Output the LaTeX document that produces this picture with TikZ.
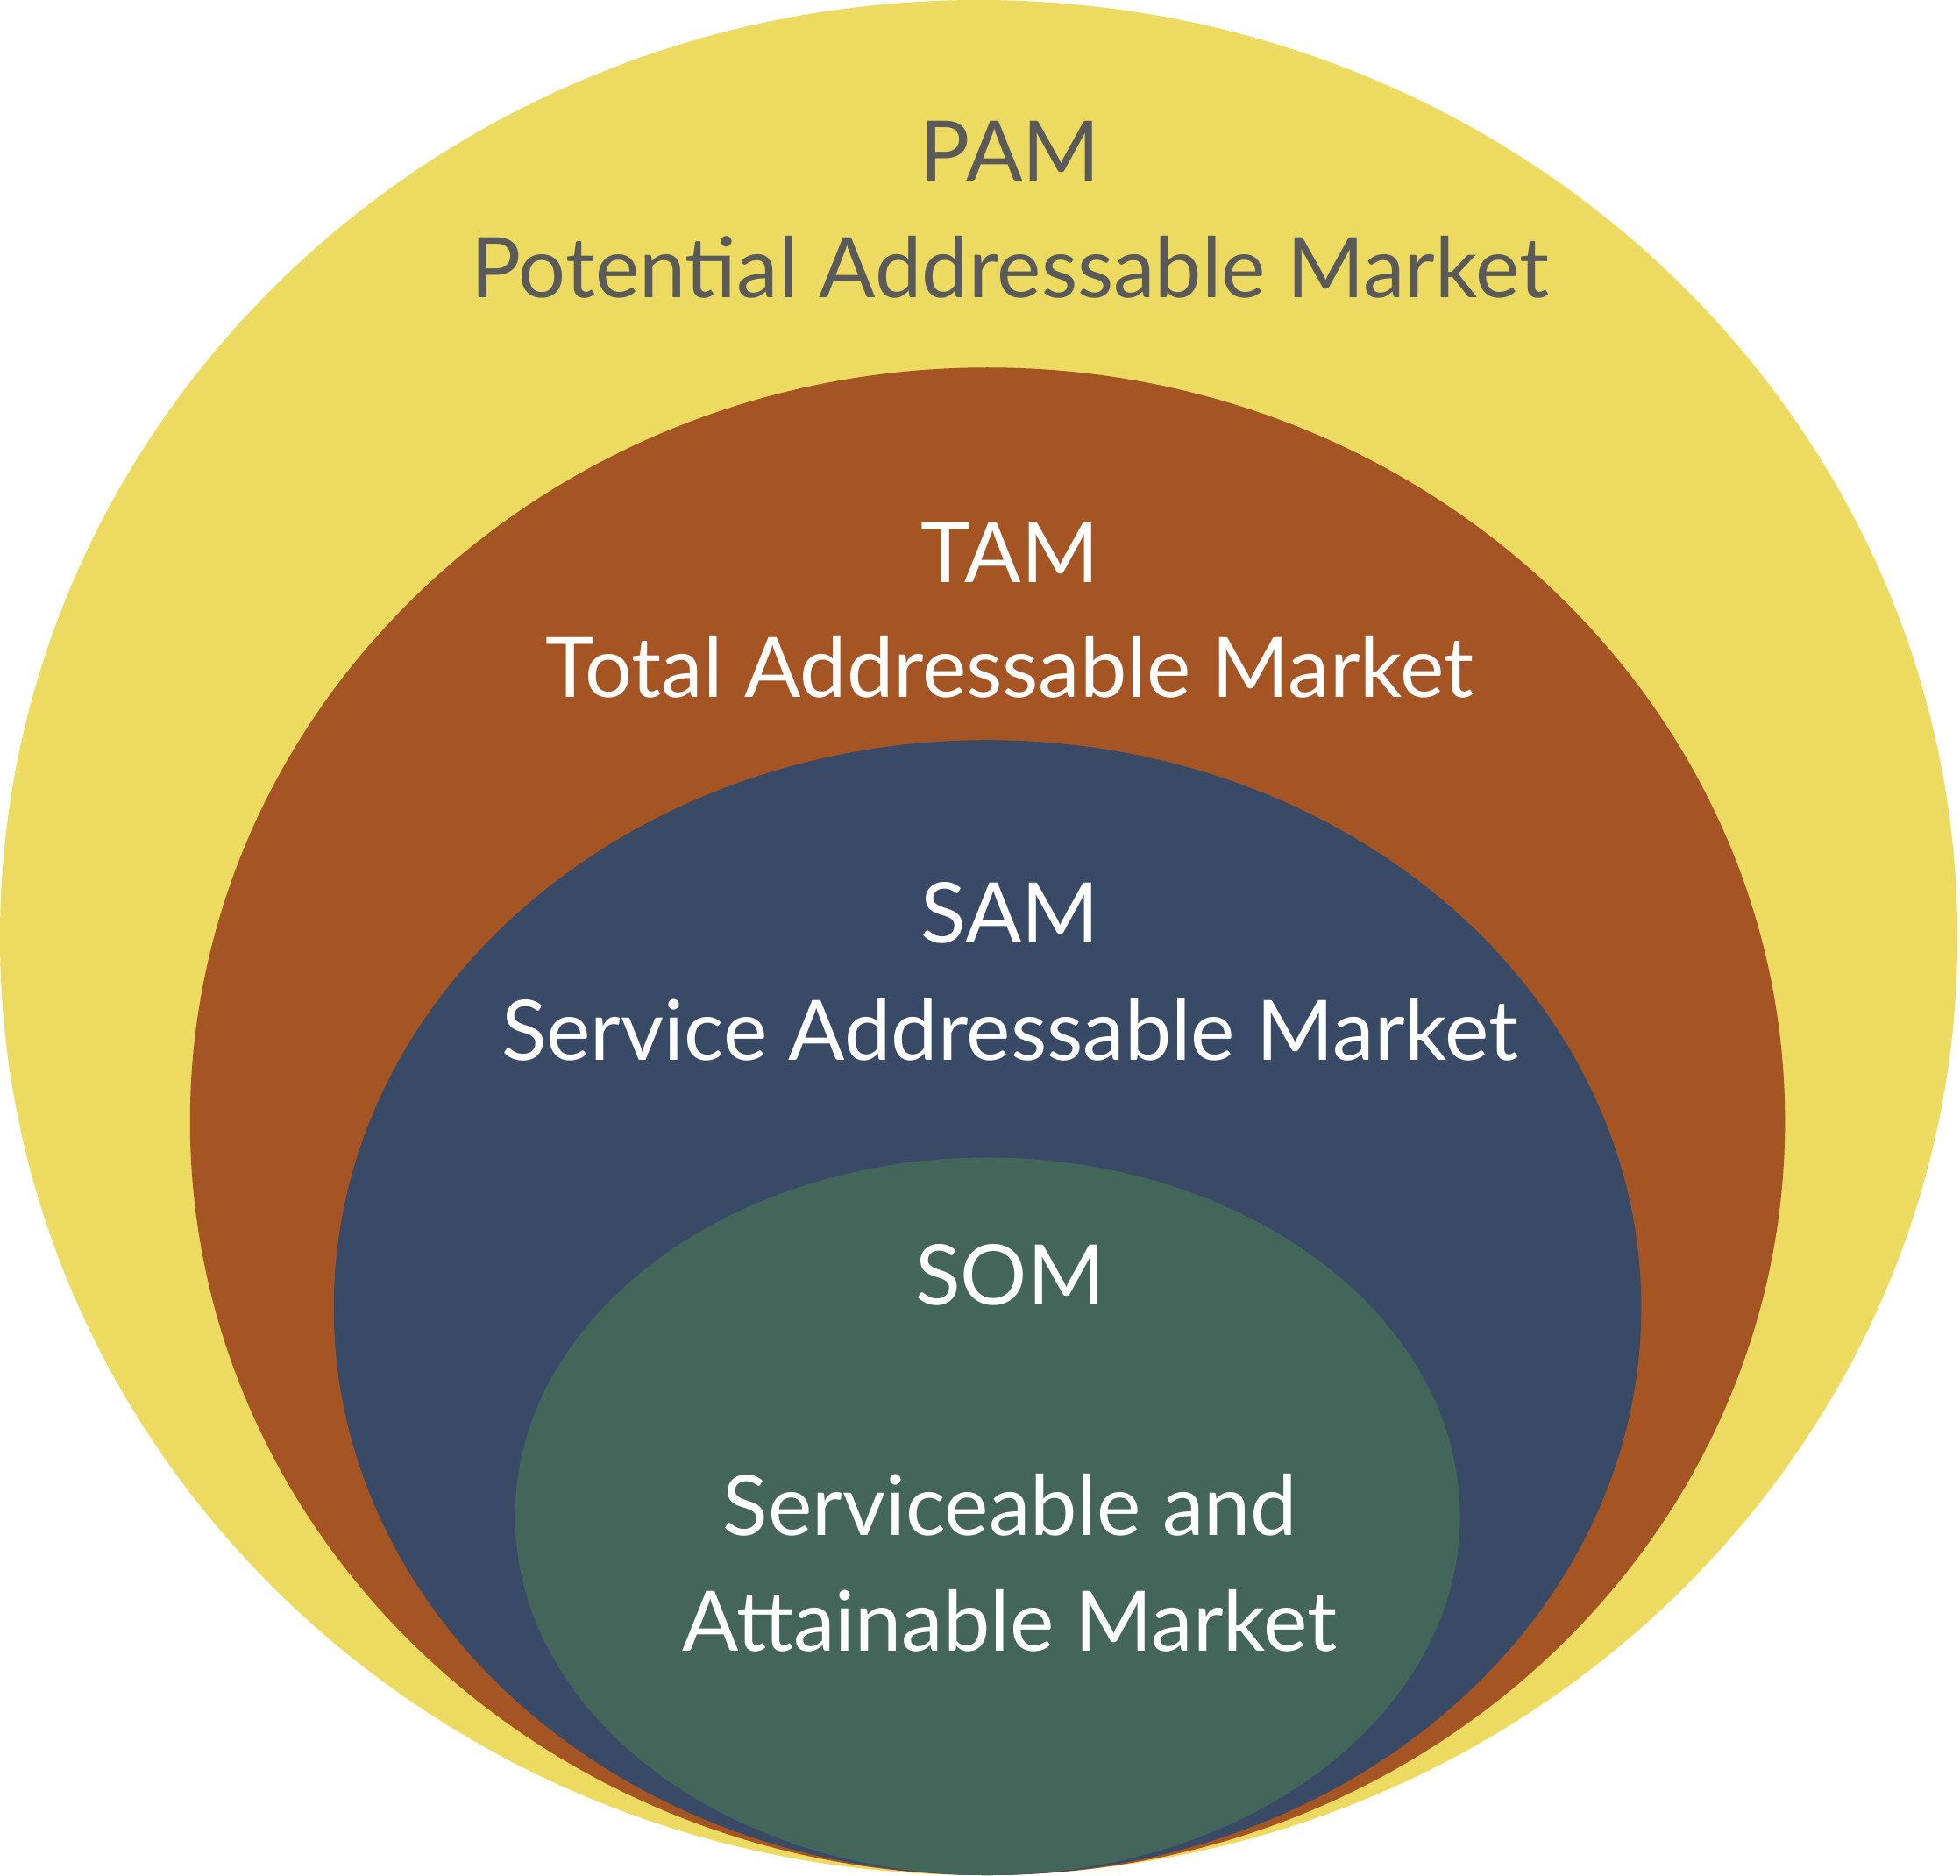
\documentclass[tikz,border=0pt]{standalone}
\usepackage{fontspec}
\setmainfont{Lato}
\definecolor{cpam}{HTML}{EDDA60}
\definecolor{ctam}{HTML}{A55423}
\definecolor{csam}{HTML}{384A66}
\definecolor{csom}{HTML}{44665A}
\definecolor{cgray}{HTML}{5A5A5A}
\begin{document}
\begin{tikzpicture}[x=0.01cm,y=-0.01cm,
  lbl/.style={font=\fontsize{19}{23}\selectfont,white,anchor=base}]
\useasboundingbox (0,0) rectangle (1568,1500);
\fill[cpam] (783,750) ellipse [x radius=783, y radius=750];
\fill[ctam] (790,897) ellipse [x radius=638, y radius=603];
\fill[csam] (790,1046) ellipse [x radius=523, y radius=454];
\fill[csom] (790,1213) ellipse [x radius=378, y radius=287];
\node[lbl,cgray] (pam) at (808,145) {PAM};
\node[lbl,cgray] (pamt) at (808,238) {Potential Addressable Market};
\node[lbl] (tam) at (808,466) {TAM};
\node[lbl] (tamt) at (808,558) {Total Addressable Market};
\node[lbl] (sam) at (808,754) {SAM};
\node[lbl] (samt) at (808,848) {Service Addressable Market};
\node[lbl] (som) at (808,1044) {SOM};
\node[lbl] (somt1) at (808,1228) {Serviceable and};
\node[lbl] (somt2) at (808,1321) {Attainable Market};
\end{tikzpicture}
\end{document}
